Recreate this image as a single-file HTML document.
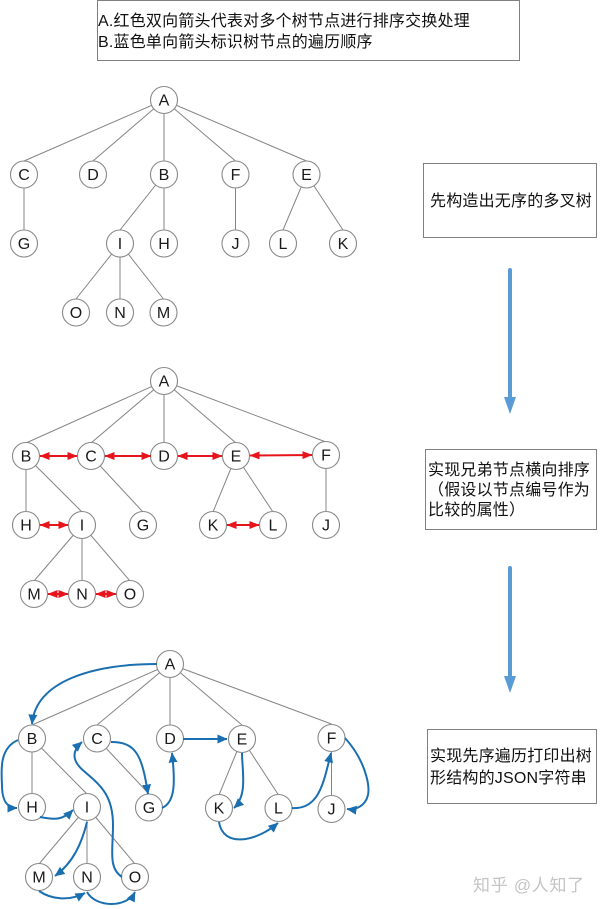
<!DOCTYPE html>
<html>
<head>
<meta charset="utf-8">
<style>
html,body{margin:0;padding:0;background:#fff;width:600px;height:909px;overflow:hidden}
svg{display:block}
.l line{stroke:#858585;stroke-width:1}
.n circle{fill:#fff;stroke:#8a8a8a;stroke-width:1.1}
.n text{font-family:"Liberation Sans",sans-serif;font-size:16px;fill:#1a1a1a;text-anchor:middle}
.t{font-family:"Liberation Sans","Noto Sans CJK SC",sans-serif;font-size:16px;fill:#111;letter-spacing:.2px}
.b{fill:#fff;stroke:#808080;stroke-width:1}
.red line{stroke:#e8141c;stroke-width:2;marker-start:url(#r);marker-end:url(#r)}
.blue path{fill:none;stroke:#1a6fb0;stroke-width:2;marker-end:url(#u)}
</style>
</head>
<body>
<svg width="600" height="909" viewBox="0 0 600 909" xmlns="http://www.w3.org/2000/svg">
<defs>
<marker id="r" markerUnits="userSpaceOnUse" markerWidth="10" markerHeight="8" refX="9.5" refY="4" orient="auto-start-reverse"><path d="M0,0 L10,4 L0,8 Z" fill="#e8141c"/></marker>
<marker id="u" markerUnits="userSpaceOnUse" markerWidth="10" markerHeight="9" refX="9.5" refY="4.5" orient="auto"><path d="M0,0 L10,4.500 L0,9 Z" fill="#1a6fb0"/></marker>
</defs>

<rect class="b" x="97.5" y="0.5" width="422" height="60"/>
<text class="t" x="98" y="26">A.红色双向箭头代表对多个树节点进行排序交换处理</text>
<text class="t" x="98" y="47">B.蓝色单向箭头标识树节点的遍历顺序</text>

<rect class="b" x="423.5" y="163.5" width="173" height="74"/>
<text class="t" x="430" y="206">先构造出无序的多叉树</text>

<rect class="b" x="425.5" y="449.5" width="171" height="80"/>
<text class="t" x="428" y="475">实现兄弟节点横向排序</text>
<text class="t" x="428" y="495">（假设以节点编号作为</text>
<text class="t" x="428" y="515">比较的属性）</text>

<rect class="b" x="427.5" y="729.5" width="169" height="74"/>
<text class="t" x="430" y="761">实现先序遍历打印出树</text>
<text class="t" x="430" y="783">形结构的JSON字符串</text>

<text x="473" y="891" style="font-family:'Liberation Sans','Noto Sans CJK SC',sans-serif;font-size:17px;letter-spacing:.7px;fill:#c4c4c4">知乎 @人知了</text>

<path d="M510,270 V398" stroke="#5b9bd5" stroke-width="4" stroke-linecap="round" fill="none"/>
<path d="M504,397 H516 L510,414 Z" fill="#5b9bd5"/>
<path d="M510,568 V677" stroke="#5b9bd5" stroke-width="4" stroke-linecap="round" fill="none"/>
<path d="M504,676 H516 L510,693 Z" fill="#5b9bd5"/>

<!-- Tree 1 -->
<g class="l">
<line x1="164" y1="100" x2="24" y2="161"/>
<line x1="164" y1="100" x2="93" y2="161"/>
<line x1="164" y1="100" x2="164" y2="161"/>
<line x1="164" y1="100" x2="235.5" y2="161"/>
<line x1="164" y1="100" x2="306.5" y2="161"/>
<line x1="24" y1="174.500" x2="24" y2="230"/>
<line x1="164" y1="174.500" x2="120" y2="230"/>
<line x1="164" y1="174.500" x2="164" y2="230"/>
<line x1="235.500" y1="174.500" x2="235.500" y2="230"/>
<line x1="306.500" y1="174.500" x2="283" y2="230"/>
<line x1="306.500" y1="174.500" x2="343" y2="230"/>
<line x1="120" y1="243.500" x2="76" y2="299"/>
<line x1="120" y1="243.500" x2="120" y2="299"/>
<line x1="120" y1="243.500" x2="163.500" y2="299"/>
</g>
<g class="n">
<circle cx="164" cy="100" r="13.500"/><text x="164" y="105.500">A</text>
<circle cx="24" cy="174.500" r="13.500"/><text x="24" y="180">C</text>
<circle cx="93" cy="174.500" r="13.500"/><text x="93" y="180">D</text>
<circle cx="164" cy="174.500" r="13.500"/><text x="164" y="180">B</text>
<circle cx="235.500" cy="174.500" r="13.500"/><text x="235.500" y="180">F</text>
<circle cx="306.500" cy="174.500" r="13.500"/><text x="306.500" y="180">E</text>
<circle cx="24" cy="243.500" r="13.500"/><text x="24" y="249">G</text>
<circle cx="120" cy="243.500" r="13.500"/><text x="120" y="249">I</text>
<circle cx="164" cy="243.500" r="13.500"/><text x="164" y="249">H</text>
<circle cx="235.500" cy="243.500" r="13.500"/><text x="235.500" y="249">J</text>
<circle cx="283" cy="243.500" r="13.500"/><text x="283" y="249">L</text>
<circle cx="343" cy="243.500" r="13.500"/><text x="343" y="249">K</text>
<circle cx="76" cy="312.500" r="13.500"/><text x="76" y="318">O</text>
<circle cx="120" cy="312.500" r="13.500"/><text x="120" y="318">N</text>
<circle cx="163.500" cy="312.500" r="13.500"/><text x="163.500" y="318">M</text>
</g>

<!-- Tree 2 -->
<g class="l">
<line x1="164" y1="381" x2="26" y2="443"/>
<line x1="164" y1="381" x2="91" y2="443"/>
<line x1="164" y1="381" x2="164" y2="443"/>
<line x1="164" y1="381" x2="236" y2="443"/>
<line x1="164" y1="381" x2="326" y2="442"/>
<line x1="26" y1="456" x2="26" y2="512"/>
<line x1="26" y1="456" x2="82" y2="512"/>
<line x1="91" y1="456" x2="143" y2="512"/>
<line x1="236" y1="456" x2="213" y2="512"/>
<line x1="236" y1="456" x2="273" y2="512"/>
<line x1="326" y1="455" x2="326" y2="512"/>
<line x1="82" y1="525" x2="34" y2="581"/>
<line x1="82" y1="525" x2="82" y2="581"/>
<line x1="82" y1="525" x2="130" y2="581"/>
</g>
<g class="n">
<circle cx="164" cy="381" r="13.500"/><text x="164" y="386.500">A</text>
<circle cx="26" cy="456" r="13.500"/><text x="26" y="461.500">B</text>
<circle cx="91" cy="456" r="13.500"/><text x="91" y="461.500">C</text>
<circle cx="164" cy="456" r="13.500"/><text x="164" y="461.500">D</text>
<circle cx="236" cy="456" r="13.500"/><text x="236" y="461.500">E</text>
<circle cx="326" cy="455" r="13.500"/><text x="326" y="460.500">F</text>
<circle cx="26" cy="525" r="13.500"/><text x="26" y="530.500">H</text>
<circle cx="82" cy="525" r="13.500"/><text x="82" y="530.500">I</text>
<circle cx="143" cy="525" r="13.500"/><text x="143" y="530.500">G</text>
<circle cx="213" cy="525" r="13.500"/><text x="213" y="530.500">K</text>
<circle cx="273" cy="525" r="13.500"/><text x="273" y="530.500">L</text>
<circle cx="326" cy="525" r="13.500"/><text x="326" y="530.500">J</text>
<circle cx="34" cy="594" r="13.500"/><text x="34" y="599.500">M</text>
<circle cx="82" cy="594" r="13.500"/><text x="82" y="599.500">N</text>
<circle cx="130" cy="594" r="13.500"/><text x="130" y="599.500">O</text>
</g>
<g class="red">
<line x1="40" y1="456" x2="77" y2="456"/>
<line x1="105" y1="456" x2="151" y2="456"/>
<line x1="178" y1="456" x2="222" y2="456"/>
<line x1="250" y1="455.500" x2="312" y2="455"/>
<line x1="40" y1="525" x2="68" y2="525"/>
<line x1="227" y1="525" x2="259" y2="525"/>
<line x1="48" y1="594" x2="68" y2="594"/>
<line x1="96" y1="594" x2="116" y2="594"/>
</g>

<!-- Tree 3 -->
<g class="l">
<line x1="170" y1="664" x2="32" y2="725"/>
<line x1="170" y1="664" x2="97" y2="725"/>
<line x1="170" y1="664" x2="170" y2="725"/>
<line x1="170" y1="664" x2="242" y2="725"/>
<line x1="170" y1="664" x2="331.500" y2="724"/>
<line x1="32" y1="738.500" x2="32" y2="794"/>
<line x1="32" y1="738.500" x2="87" y2="794"/>
<line x1="97" y1="738.500" x2="149" y2="794"/>
<line x1="242" y1="739" x2="219" y2="795"/>
<line x1="242" y1="739" x2="278.500" y2="795"/>
<line x1="331.500" y1="738" x2="331.500" y2="796"/>
<line x1="87" y1="807" x2="39" y2="864"/>
<line x1="87" y1="807" x2="87" y2="864"/>
<line x1="87" y1="807" x2="135" y2="864"/>
</g>
<g class="n">
<circle cx="170" cy="664" r="13.500"/><text x="170" y="669.500">A</text>
<circle cx="32" cy="738.500" r="13.500"/><text x="32" y="744">B</text>
<circle cx="97" cy="738.500" r="13.500"/><text x="97" y="744">C</text>
<circle cx="170" cy="738.500" r="13.500"/><text x="170" y="744">D</text>
<circle cx="242" cy="739" r="13.500"/><text x="242" y="744.500">E</text>
<circle cx="331.500" cy="738" r="13.500"/><text x="331.500" y="743.500">F</text>
<circle cx="32" cy="807" r="13.500"/><text x="32" y="812.500">H</text>
<circle cx="87" cy="807" r="13.500"/><text x="87" y="812.500">I</text>
<circle cx="149" cy="807.500" r="13.500"/><text x="149" y="813">G</text>
<circle cx="219" cy="808" r="13.500"/><text x="219" y="813.500">K</text>
<circle cx="278.500" cy="808" r="13.500"/><text x="278.500" y="813.500">L</text>
<circle cx="331.500" cy="809" r="13.500"/><text x="331.500" y="814.500">J</text>
<circle cx="39" cy="877" r="13.500"/><text x="39" y="882.500">M</text>
<circle cx="87" cy="877" r="13.500"/><text x="87" y="882.500">N</text>
<circle cx="135" cy="877" r="13.500"/><text x="135" y="882.500">O</text>
</g>
<g class="blue">
<path d="M157,664 C95,664 36,680 32,724"/>
<path d="M18,740 C0,748 1,768 2,785 C2,801 7,808 17,808"/>
<path d="M40,817 C55,820 63,820 73,810"/>
<path d="M87,822 C82,842 74,862 55,876"/>
<path d="M39,891 C52,900 70,901 85,893"/>
<path d="M87,892 C96,908 127,908 135,892"/>
<path d="M122,877 C108,868 113,850 113,825 C113,795 100,785 85,772 C70,760 73,750 82,742"/>
<path d="M111,742 C136,742 142,755 148,794"/>
<path d="M162,808 C176,802 175,780 172,753"/>
<path d="M183,739 H227"/>
<path d="M242,753 C242,770 248,795 234,808"/>
<path d="M219,822 C223,848 256,842 278,823"/>
<path d="M292,808 C320,810 324,780 331,753"/>
<path d="M345,738 C365,760 370,785 368,795 C365,807 355,810 347,809"/>
</g>
</svg>
</body>
</html>
